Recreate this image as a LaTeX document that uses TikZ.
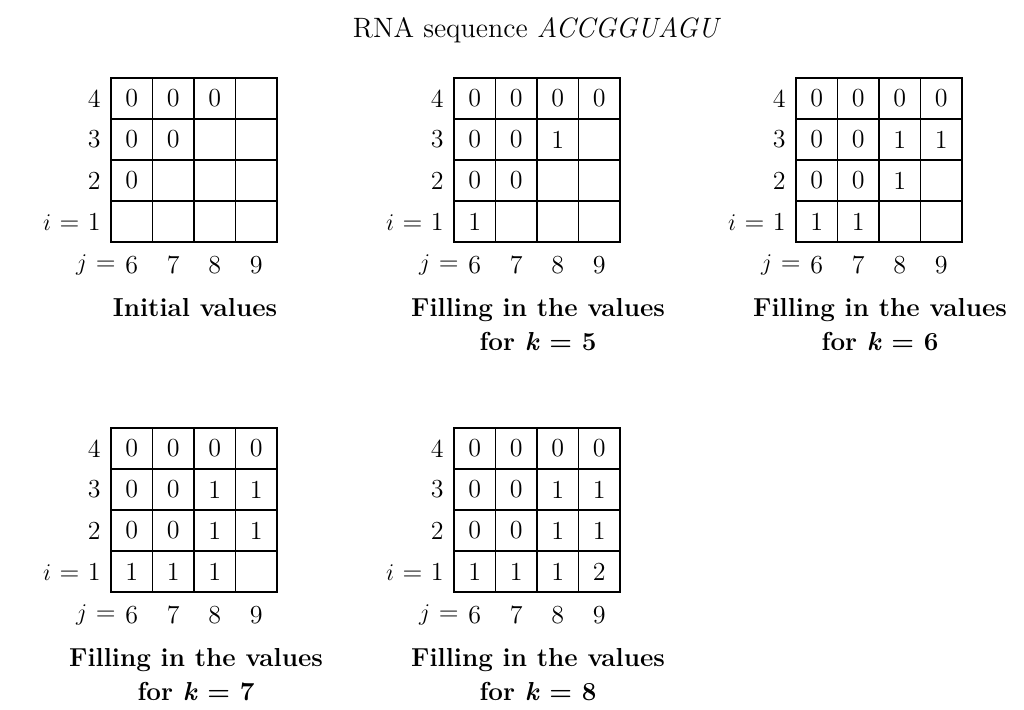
\documentclass[tikz,border=0pt]{standalone}
\begin{document}
\begin{tikzpicture}[x=0.5pt,y=-0.5pt,
  cell/.style={draw,line width=0.6pt,minimum width=20.75pt,minimum height=20.5pt,inner sep=0pt,font=\fontsize{13}{15}\selectfont},
  lab/.style={inner sep=0pt,font=\fontsize{13}{15}\selectfont},
  capt/.style={inner sep=0pt,align=center,font=\fontsize{13}{17}\selectfont\bfseries}]
\useasboundingbox (0,0) rectangle (1024,710);
\newcommand\rnagrid[4]{% name, left, top, rows
  \foreach \row [count=\r] in {#4}{
    \foreach \v [count=\c] in \row{
      \node[cell] (#1-\r-\c) at ({#2+41.5*(\c-0.5)},{#3+41*(\r-0.5)}) {\v};
    }
  }
  \node[lab,anchor=east] (#1-l4) at ({#2-10},{#3+20.5}) {4};
  \node[lab,anchor=east] (#1-l3) at ({#2-10},{#3+61.5}) {3};
  \node[lab,anchor=east] (#1-l2) at ({#2-10},{#3+102.5}) {2};
  \node[lab,anchor=east] (#1-l1) at ({#2-10},{#3+143.5}) {$i$ = 1};
  \node[lab,anchor=east] (#1-j) at ({#2+5},{#3+187}) {$j$ =};
  \foreach \n [count=\c] in {6,7,8,9}{
    \node[lab] (#1-j\c) at ({#2+41.5*(\c-0.5)},{#3+187}) {\n};
  }
}
\node[lab,font=\fontsize{14}{16}\selectfont] (title) at (537,30) {RNA sequence \textit{ACCGGUAGU}};
\rnagrid{a}{111}{78}{{0,0,0,{}},{0,0,{},{}},{0,{},{},{}},{{},{},{},{}}}
\rnagrid{b}{454}{78}{{0,0,0,0},{0,0,1,{}},{0,0,{},{}},{1,{},{},{}}}
\rnagrid{c}{796}{78}{{0,0,0,0},{0,0,1,1},{0,0,1,{}},{1,1,{},{}}}
\rnagrid{d}{111}{428}{{0,0,0,0},{0,0,1,1},{0,0,1,1},{1,1,1,{}}}
\rnagrid{e}{454}{428}{{0,0,0,0},{0,0,1,1},{0,0,1,1},{1,1,1,2}}
\node[capt] (ca) at (195,308) {Initial values};
\node[capt] (cb) at (538,325) {Filling in the values\\for \textit{k} = 5};
\node[capt] (cc) at (880,325) {Filling in the values\\for \textit{k} = 6};
\node[capt] (cd) at (196,675) {Filling in the values\\for \textit{k} = 7};
\node[capt] (ce) at (538,675) {Filling in the values\\for \textit{k} = 8};
\end{tikzpicture}
\end{document}
